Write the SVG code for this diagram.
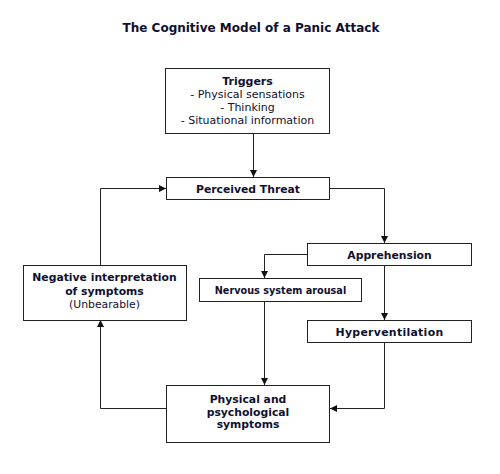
<svg xmlns="http://www.w3.org/2000/svg" width="500" height="474" viewBox="0 0 500 474">
<style>
.box{fill:#fff;stroke:#222;stroke-width:1}
.t{font-family:"DejaVu Sans",Verdana,sans-serif;fill:#101030;text-anchor:middle}
.b{font-weight:bold}
.c{fill:none;stroke:#222;stroke-width:1}
</style>
<defs>
<marker id="ah" markerWidth="8" markerHeight="8" refX="7" refY="4" orient="auto" markerUnits="userSpaceOnUse">
<path d="M0,0.5 L7,4 L0,7.5 Z" fill="#111"/>
</marker>
</defs>
<rect width="500" height="474" fill="#fff"/>
<text class="t b" x="251" y="32" font-size="12">The Cognitive Model of a Panic Attack</text>
<g id="connectors">
<path class="c" d="M253.5,133 V177" marker-end="url(#ah)"/>
<path class="c" d="M100.5,265 V188.5 H166" marker-end="url(#ah)"/>
<path class="c" d="M330,188.5 H384.5 V243" marker-end="url(#ah)"/>
<path class="c" d="M307,254.5 H264.5 V278" marker-end="url(#ah)"/>
<path class="c" d="M384.5,265 V320" marker-end="url(#ah)"/>
<path class="c" d="M264.5,301 V385" marker-end="url(#ah)"/>
<path class="c" d="M384.5,342 V408.5 H330" marker-end="url(#ah)"/>
<path class="c" d="M166,408.5 H100.5 V320" marker-end="url(#ah)"/>
</g>
<g id="triggers">
<rect class="box" x="165.5" y="68.5" width="164" height="65"/>
<text class="t b" x="247.5" y="85" font-size="11">Triggers</text>
<text class="t" x="247.5" y="98" font-size="11">- Physical sensations</text>
<text class="t" x="247.5" y="111" font-size="11">- Thinking</text>
<text class="t" x="247.5" y="124" font-size="11">- Situational information</text>
</g>
<g id="perceived">
<rect class="box" x="166.5" y="177.5" width="163" height="22"/>
<text class="t b" x="248" y="193" font-size="10.8">Perceived Threat</text>
</g>
<g id="apprehension">
<rect class="box" x="307.5" y="243.5" width="164" height="22"/>
<text class="t b" x="389.5" y="259" font-size="10.8">Apprehension</text>
</g>
<g id="nervous">
<rect class="box" x="199.5" y="278.5" width="162" height="23"/>
<text class="t b" x="280.5" y="294" font-size="9.7">Nervous system arousal</text>
</g>
<g id="hyperventilation">
<rect class="box" x="307.5" y="320.5" width="164" height="22"/>
<text class="t b" x="389.5" y="336" font-size="10.9" letter-spacing="0.3">Hyperventilation</text>
</g>
<g id="negative">
<rect class="box" x="23.5" y="265.5" width="163" height="55"/>
<text class="t b" x="104.5" y="281" font-size="10.8">Negative interpretation</text>
<text class="t b" x="104.5" y="295" font-size="10.8">of symptoms</text>
<text class="t" x="104.5" y="307.5" font-size="10.8">(Unbearable)</text>
</g>
<g id="physical">
<rect class="box" x="166.5" y="385.5" width="163" height="57"/>
<text class="t b" x="248" y="403" font-size="10.8">Physical and</text>
<text class="t b" x="248" y="415.5" font-size="10.8">psychological</text>
<text class="t b" x="248" y="428" font-size="10.8">symptoms</text>
</g>
</svg>
